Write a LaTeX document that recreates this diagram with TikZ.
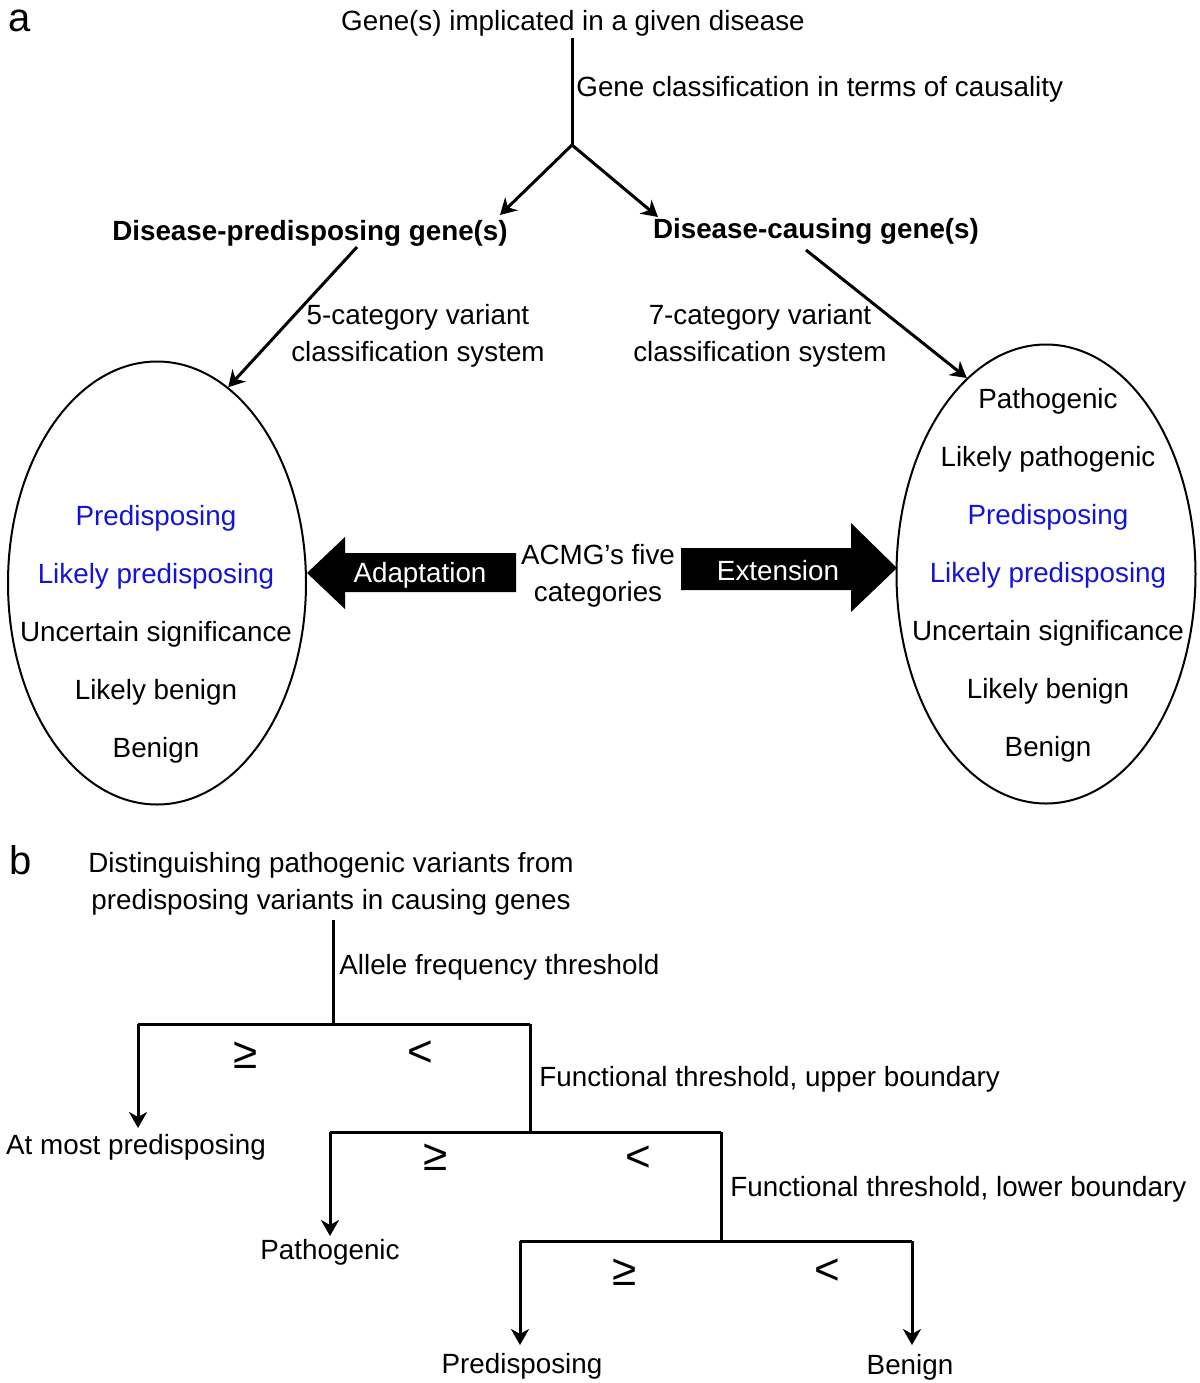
\documentclass[tikz,border=0pt]{standalone}
\usepackage{fontspec}
\setmainfont{Liberation Sans}
\usetikzlibrary{shapes.geometric,arrows.meta}
\definecolor{catblue}{RGB}{20,20,215}
\tikzset{
  txt/.style={inner sep=0pt, yshift=-1pt, font=\fontsize{13.9}{16.5}\selectfont, align=center},
  btxt/.style={txt, font=\fontsize{13.9}{16.5}\selectfont\bfseries},
  sym/.style={inner sep=0pt, font=\fontsize{22}{24}\selectfont},
  panel/.style={inner sep=0pt, font=\fontsize{20}{22}\selectfont},
  cat/.style={txt},
  bluecat/.style={txt, text=catblue},
  conn/.style={line width=1.5pt},
  arr/.style={conn, -{Stealth[length=8pt, width=9pt, inset=2.5pt]}},
  oval/.style={draw, ellipse, line width=1pt, inner sep=0pt},
  bigarrow/.style={fill=black, draw=none},
}
\begin{document}
\begin{tikzpicture}[x=0.5pt, y=-0.5pt]
\useasboundingbox (0,0) rectangle (1200,1383);
% ---------- panel a ----------
\node[panel] (pa) at (20,21) {a};
\node[txt] (top) at (573,21) {Gene(s) implicated in a given disease};
\coordinate (t0) at (572,38);
\coordinate (fork) at (572,145);
\node[txt, anchor=west] (gclass) at (576,87) {Gene classification in terms of causality};
\draw[conn] (t0) -- (fork);
\node[btxt] (pred) at (310,231) {Disease-predisposing gene(s)};
\node[btxt] (caus) at (816,229) {Disease-causing gene(s)};
\coordinate (pend) at (500,215);
\coordinate (cend) at (658,217);
\draw[arr] (fork) -- (pend);
\draw[arr] (fork) -- (cend);

\node[oval, minimum width=149pt, minimum height=221.5pt] (L) at (157,583) {};
\node[oval, minimum width=149.5pt, minimum height=229.5pt] (R) at (1046,574) {};

\coordinate (ps) at (357,247);
\coordinate (cs) at (806,250);
\draw[arr] (ps) -- (L.70);
\draw[arr] (cs) -- (R.112);
\node[txt] (five) at (418,334) {5-category variant\\[2pt]classification system};
\node[txt] (seven) at (760,334) {7-category variant\\[2pt]classification system};

% left categories
\node[bluecat] (l1) at (156,516) {Predisposing};
\node[bluecat] (l2) at (156,574) {Likely predisposing};
\node[cat] (l3) at (156,632) {Uncertain significance};
\node[cat] (l4) at (156,690) {Likely benign};
\node[cat] (l5) at (156,748) {Benign};
% right categories
\node[cat] (r1) at (1048,399) {Pathogenic};
\node[cat] (r2) at (1048,457) {Likely pathogenic};
\node[bluecat] (r3) at (1048,515) {Predisposing};
\node[bluecat] (r4) at (1048,573) {Likely predisposing};
\node[cat] (r5) at (1048,631) {Uncertain significance};
\node[cat] (r6) at (1048,689) {Likely benign};
\node[cat] (r7) at (1048,747) {Benign};

% big arrows
\fill[bigarrow] (307,573) -- (345,537) -- (345,553) -- (516,553) -- (516,592) -- (345,592) -- (345,609) -- cycle;
\fill[bigarrow] (897,568) -- (851,523) -- (851,548) -- (681,548) -- (681,590) -- (851,590) -- (851,612) -- cycle;
\node[txt, text=white] (adapt) at (420,573) {Adaptation};
\node[txt, text=white] (ext) at (778,569) {Extension};
\node[txt] (acmg) at (598,574) {ACMG’s five\\[2pt]categories};

% ---------- panel b ----------
\node[panel] (pb) at (21,860) {b};
\node[txt] (btitle) at (331,882) {Distinguishing pathogenic variants from\\[2pt]predisposing variants in causing genes};
\coordinate (b0) at (333,920);
\coordinate (b1) at (333,1024);
\draw[conn] (b0) -- (b1);
\node[txt, anchor=west] (afreq) at (339,965) {Allele frequency threshold};
\coordinate (h1l) at (138,1024);
\coordinate (h1r) at (530,1024);
\draw[conn] (h1l) -- (h1r);
\node[txt] (most) at (136,1145) {At most predisposing};
\draw[arr] (h1l) -- (138,1128);
\node[sym] (ge1) at (246,1055) {≥};
\node[sym] (lt1) at (420,1054) {<};
\coordinate (v2t) at (530,1024);
\coordinate (v2b) at (530,1132);
\draw[conn] (v2t) -- (v2b);
\node[txt, anchor=west] (fup) at (539,1077) {Functional threshold, upper boundary};
\coordinate (h2l) at (330,1132);
\coordinate (h2r) at (721,1132);
\draw[conn] (h2l) -- (h2r);
\node[txt] (patho) at (330,1250) {Pathogenic};
\draw[arr] (h2l) -- (330,1236);
\node[sym] (ge2) at (436,1157) {≥};
\node[sym] (lt2) at (638,1159) {<};
\coordinate (v3b) at (721,1241);
\draw[conn] (h2r) -- (v3b);
\node[txt, anchor=west] (flow) at (730,1187) {Functional threshold, lower boundary};
\coordinate (h3l) at (520,1241);
\coordinate (h3r) at (912,1241);
\draw[conn] (h3l) -- (h3r);
\node[txt] (predb) at (522,1364) {Predisposing};
\node[txt] (benb) at (910,1365) {Benign};
\draw[arr] (h3l) -- (520,1345);
\draw[arr] (h3r) -- (912,1345);
\node[sym] (ge3) at (625,1272) {≥};
\node[sym] (lt3) at (827,1272) {<};
\end{tikzpicture}
\end{document}
